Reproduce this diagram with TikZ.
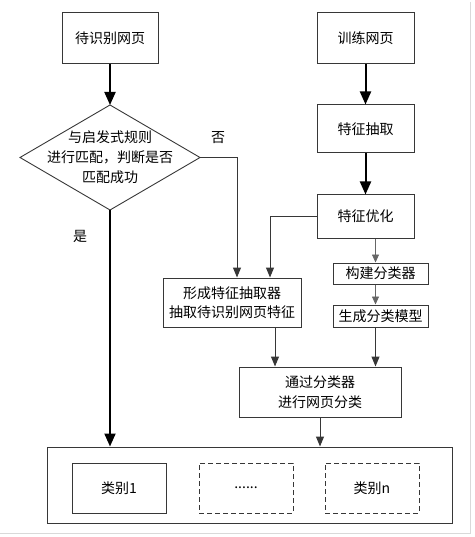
\documentclass[tikz,border=0pt]{standalone}
\usepackage{fontspec}
\setmainfont{Noto Sans CJK SC}
\usetikzlibrary{shapes.geometric,arrows.meta}
\tikzset{every picture/.style={line width=0.75pt}}
\definecolor{boxline}{RGB}{55,55,55}

\begin{document}
\begin{tikzpicture}[x=1pt,y=1pt,yscale=-1,xscale=1,
  box/.style={draw=boxline,line width=1pt,align=center,inner sep=0pt,font=\fontsize{14}{19.5}\selectfont},
  decision/.style={diamond,draw=boxline,line width=0.9pt,inner sep=0pt,outer sep=0pt,minimum width=180,minimum height=105},
  dashbox/.style={box,dashed,dash pattern=on 5pt off 3pt},
  thickarrow/.style={line width=2pt,-{Triangle[length=13pt,width=11pt]}},
  thinarrow/.style={line width=1pt,color=boxline,-{Triangle[length=10pt,width=8pt]}},
  smallarrow/.style={line width=0.8pt,color=black!60,-{Triangle[length=8pt,width=7pt]}},
  tag/.style={inner sep=0pt,font=\fontsize{14}{16}\selectfont}]
\useasboundingbox (0,0) rectangle (474,537);

%Frame
\draw [black!15] (470,2) -- (470,533) -- (0,533) ;

%Shape: Rectangle
\node [box,minimum width=96,minimum height=51] (web) at (110,38.5) {待识别网页};
%Shape: Diamond
\node [decision] (match) at (110,157.5) {};
% Text Node
\node [tag,align=center,font=\fontsize{14}{20}\selectfont] (matchtext) at (match) {与启发式规则\\进行匹配，判断是否\\匹配成功};
% Text Node
\node [tag] (no) at (218,138) {否};
% Text Node
\node [tag] (yes) at (80,236) {是};

%Shape: Rectangle
\node [box,minimum width=97,minimum height=51] (train) at (365.5,38.5) {训练网页};
\node [box,minimum width=97,minimum height=48] (extract) at (365.5,129) {特征抽取};
\node [box,minimum width=97,minimum height=43] (optim) at (365.5,216.5) {特征优化};
\node [box,minimum width=95,minimum height=21] (build) at (380.5,273.5) {构建分类器};
\node [box,minimum width=95,minimum height=22] (model) at (380.5,316) {生成分类模型};
\node [box,minimum width=138,minimum height=49] (former) at (232,302.5) {形成特征抽取器\\抽取待识别网页特征};
\node [box,minimum width=162,minimum height=50] (classify) at (320,392) {通过分类器\\进行网页分类};

%Shape: Rectangle
\node [box,minimum width=405,minimum height=76] (result) at (249.5,485) {};
\node [box,minimum width=94,minimum height=50] (cat1) at (119,488) {类别1};
\node [dashbox,minimum width=94,minimum height=50] (dots) at (246,488) {\raisebox{-1pt}{......}};
\node [dashbox,minimum width=94,minimum height=50] (catn) at (372,488) {类别n};

%Straight Lines
\coordinate (nox) at ([xshift=5]former.north) ;
\coordinate (optx) at ([xshift=38]former.north) ;
\coordinate (bx) at ([xshift=-5]build.north) ;
\coordinate (fx) at ([xshift=43]former.south) ;

\draw [thickarrow] (web) -- (match) ;
\draw [thickarrow] (match.south) -- (match.south |- result.north) ;
\draw [thinarrow] (match.east) -| (nox) ;
\draw [thickarrow] (train) -- (extract) ;
\draw [thickarrow] (extract) -- (optim) ;
\draw [thinarrow] (optim.west) -| (optx) ;
\draw [smallarrow] (optim.south -| bx) -- (bx) ;
\draw [smallarrow] (build.south -| bx) -- (model.north -| bx) ;
\draw [thinarrow] (model.south -| bx) -- (classify.north -| bx) ;
\draw [thinarrow] (fx) -- (fx |- classify.north) ;
\draw [thinarrow] (classify.south) -- (classify.south |- result.north) ;

\end{tikzpicture}
\end{document}
